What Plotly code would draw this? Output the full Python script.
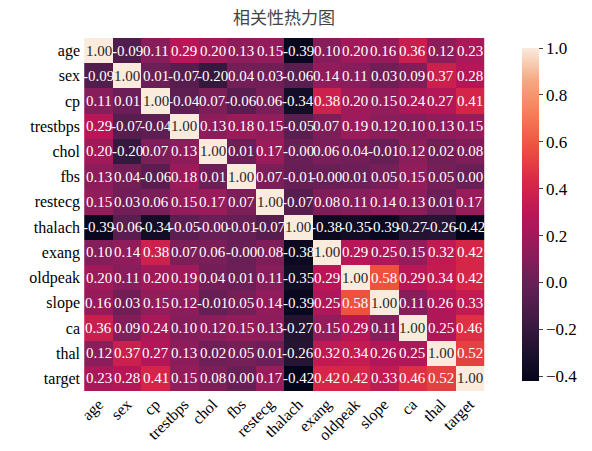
import plotly.graph_objects as go

labels = ["age","sex","cp","trestbps","chol","fbs","restecg","thalach","exang","oldpeak","slope","ca","thal","target"]
corr = [
 [1.00,-0.09,0.11,0.29,0.20,0.13,0.15,-0.39,0.10,0.20,0.16,0.36,0.12,0.23],
 [-0.09,1.00,0.01,-0.07,-0.20,0.04,0.03,-0.06,0.14,0.11,0.03,0.09,0.37,0.28],
 [0.11,0.01,1.00,-0.04,0.07,-0.06,0.06,-0.34,0.38,0.20,0.15,0.24,0.27,0.41],
 [0.29,-0.07,-0.04,1.00,0.13,0.18,0.15,-0.05,0.07,0.19,0.12,0.10,0.13,0.15],
 [0.20,-0.20,0.07,0.13,1.00,0.01,0.17,-0.00,0.06,0.04,-0.01,0.12,0.02,0.08],
 [0.13,0.04,-0.06,0.18,0.01,1.00,0.07,-0.01,-0.00,0.01,0.05,0.15,0.05,0.00],
 [0.15,0.03,0.06,0.15,0.17,0.07,1.00,-0.07,0.08,0.11,0.14,0.13,0.01,0.17],
 [-0.39,-0.06,-0.34,-0.05,-0.00,-0.01,-0.07,1.00,-0.38,-0.35,-0.39,-0.27,-0.26,-0.42],
 [0.10,0.14,0.38,0.07,0.06,-0.00,0.08,-0.38,1.00,0.29,0.25,0.15,0.32,0.42],
 [0.20,0.11,0.20,0.19,0.04,0.01,0.11,-0.35,0.29,1.00,0.58,0.29,0.34,0.42],
 [0.16,0.03,0.15,0.12,-0.01,0.05,0.14,-0.39,0.25,0.58,1.00,0.11,0.26,0.33],
 [0.36,0.09,0.24,0.10,0.12,0.15,0.13,-0.27,0.15,0.29,0.11,1.00,0.25,0.46],
 [0.12,0.37,0.27,0.13,0.02,0.05,0.01,-0.26,0.32,0.34,0.26,0.25,1.00,0.52],
 [0.23,0.28,0.41,0.15,0.08,0.00,0.17,-0.42,0.42,0.42,0.33,0.46,0.52,1.00],
]

rocket = [[0.0,"#03051a"],[0.1,"#221331"],[0.2,"#451c47"],[0.3,"#6a1f56"],[0.4,"#921c5b"],
          [0.5,"#b91657"],[0.6,"#d92847"],[0.7,"#ed503e"],[0.8,"#f47d57"],[0.9,"#f6a77f"],[1.0,"#faebdd"]]

serif = "Liberation Serif"
fig = go.Figure(go.Heatmap(
    z=corr, x=labels, y=labels, colorscale=rocket, zmin=-0.42, zmax=1.0,
    colorbar=dict(x=1.061, xanchor="left", thickness=17, len=1, lenmode="fraction", y=0.5,
                  outlinewidth=0, tickvals=[-0.4,-0.2,0,0.2,0.4,0.6,0.8,1.0],
                  ticktext=["\u22120.4","\u22120.2","0.0","0.2","0.4","0.6","0.8","1.0"],
                  ticks="outside", ticklen=4,
                  tickfont=dict(family=serif, size=17, color="black")),
))
anns = []
for i, row in enumerate(corr):
    for j, v in enumerate(row):
        anns.append(dict(x=labels[j], y=labels[i], text=f"{v:.2f}", showarrow=False,
                         font=dict(family=serif, size=15,
                                   color="#262626" if v > 0.8 else "white")))
fig.update_layout(
    width=592, height=451, margin=dict(l=73, r=94, t=30, b=68),
    paper_bgcolor="white", plot_bgcolor="white", annotations=anns,
    title=dict(text="相关性热力图", x=0.5, xref="paper", y=0.99, yanchor="top",
               font=dict(family="Noto Sans CJK SC", size=17, color="#444")),
    xaxis=dict(tickangle=-45, automargin=False, tickfont=dict(family=serif, size=16, color="black"), showgrid=False, ticks=""),
    yaxis=dict(autorange="reversed", automargin=False, tickfont=dict(family=serif, size=16, color="black"), showgrid=False, ticks=""),
)
fig.write_html("out.html")
